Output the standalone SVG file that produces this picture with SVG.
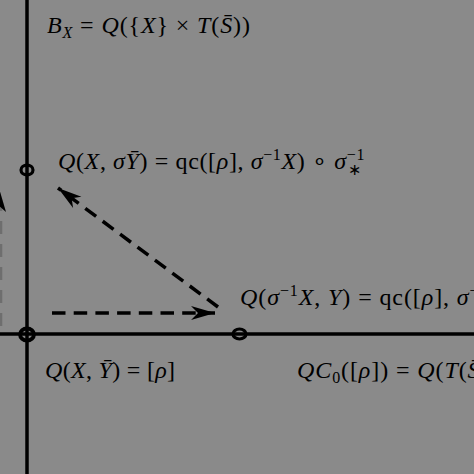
<svg xmlns="http://www.w3.org/2000/svg" width="474" height="474" viewBox="0 0 474 474">
<style>
text{font-family:"Liberation Serif","Times New Roman",serif;font-size:24px;fill:#000}
.i{font-style:italic}
.s{font-size:16px}
.axis{stroke:#000;stroke-width:3.5;fill:none}
.ring{stroke:#000;fill:none}
.dash{stroke:#000;stroke-width:3.5;fill:none;stroke-dasharray:13.5 8.2}
</style>
<defs>
<marker id="ah" markerUnits="userSpaceOnUse" markerWidth="30" markerHeight="20" viewBox="-25 -10 30 20" refX="0" refY="0" orient="auto">
<path d="M0,0 L-24,-7 L-17,0 L-24,7 Z" fill="#000" stroke="none"/>
</marker>
</defs>
<rect width="474" height="474" fill="#8a8a8a"/>
<g id="connectors">
<line class="axis" x1="27" y1="0" x2="27" y2="474"/>
<line class="axis" x1="0" y1="334" x2="474" y2="334"/>
<line class="dash" x1="52" y1="313" x2="215" y2="313" marker-end="url(#ah)"/>
<line class="dash" x1="218" y1="307" x2="58" y2="188" marker-end="url(#ah)"/>
<line x1="1" y1="326" x2="1" y2="200" stroke="#6e6e6e" stroke-width="2.5" stroke-dasharray="13 10"/>
<path d="M-1,188 L6,212 L-1,206 Z" fill="#000"/>
</g>
<g id="node-origin"><ellipse class="ring" cx="27" cy="334.5" rx="7" ry="6" stroke-width="3.8"/></g>
<g id="node-top"><ellipse class="ring" cx="27" cy="170" rx="6" ry="4.8" stroke-width="3.2"/></g>
<g id="node-right"><ellipse class="ring" cx="239.5" cy="334" rx="6.5" ry="5" stroke-width="3.2"/></g>
<g id="label-bx">
<text x="47" y="33" textLength="203" lengthAdjust="spacing"><tspan class="i">B</tspan><tspan class="i s" dy="5">X</tspan><tspan dy="-5"> = </tspan><tspan class="i">Q</tspan>({<tspan class="i">X</tspan>} × <tspan class="i">T</tspan>(<tspan class="i">S̄</tspan>))</text>
</g>
<g id="label-top">
<text x="58" y="169" textLength="307" lengthAdjust="spacing"><tspan class="i">Q</tspan>(<tspan class="i">X</tspan>, <tspan class="i">σȲ</tspan>) = qc([<tspan class="i">ρ</tspan>], <tspan class="i">σ</tspan><tspan class="s" dy="-9">−1</tspan><tspan class="i" dy="9">X</tspan>) ∘ <tspan class="i">σ</tspan><tspan class="s" dy="-9">−1</tspan><tspan class="s" dx="-17" dy="15">∗</tspan></text>
</g>
<g id="label-right">
<text x="240" y="305" letter-spacing="0.9"><tspan class="i">Q</tspan>(<tspan class="i">σ</tspan><tspan class="s" dy="-9">−1</tspan><tspan class="i" dy="9">X</tspan>, <tspan class="i">Y</tspan>) = qc([<tspan class="i">ρ</tspan>], <tspan class="i">σ</tspan><tspan class="s" dy="-9">−1</tspan><tspan class="i" dy="9">X</tspan>)</text>
</g>
<g id="label-origin">
<text x="45" y="378" textLength="130" lengthAdjust="spacing"><tspan class="i">Q</tspan>(<tspan class="i">X</tspan>, <tspan class="i">Ȳ</tspan>) = [<tspan class="i">ρ</tspan>]</text>
</g>
<g id="label-axis">
<text x="297" y="378" letter-spacing="0.9"><tspan class="i">QC</tspan><tspan class="s" dy="5">0</tspan><tspan dy="-5">([</tspan><tspan class="i">ρ</tspan>]) = <tspan class="i">Q</tspan>(<tspan class="i">T</tspan>(<tspan class="i">S̄</tspan>))</text>
</g>
</svg>
